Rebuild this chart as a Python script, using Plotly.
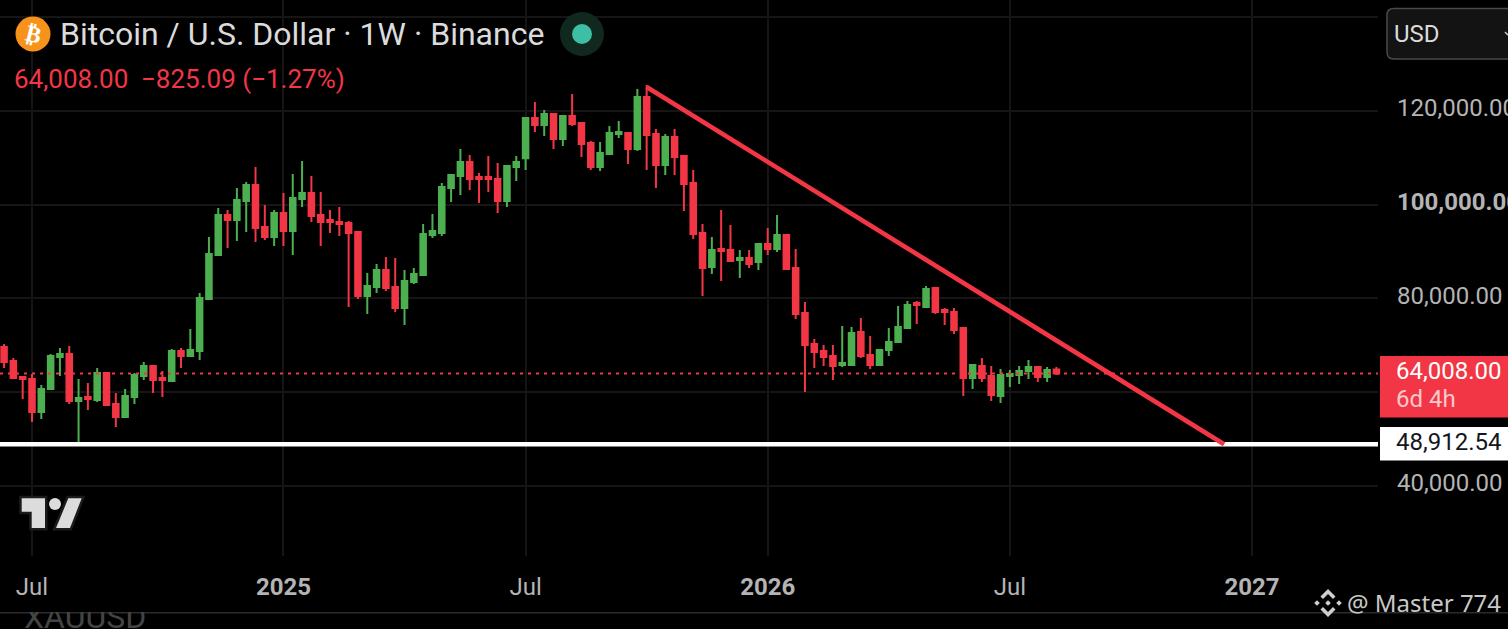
import datetime as dt
import plotly.graph_objects as go

# ---------- data ----------
weeks = [dt.date(2024, 6, 10) + dt.timedelta(days=7 * k) for k in range(114)]
open_ = [
    69633,66648,63236,62810,55774,60678,67501,68140,58119,58972,
    58332,64089,57480,54708,58972,63450,65582,63023,62384,68780,
    67714,68780,79867,89248,97776,96710,100761,104173,95218,93086,
    98202,94364,101187,102466,97776,96710,96283,96070,94151,80506,
    82425,86049,82425,77947,83491,84983,93512,93938,103532,106091,
    109076,105878,105878,105451,100761,108010,109863,118457,116965,119310,
    113980,118883,117391,113127,108010,110781,115046,115259,111848,122934,
    115046,108436,114406,110355,104598,93938,86689,90527,90313,88181,
    88608,87755,91593,90527,93511,86477,76883,70273,68781,67715,
    65796,65796,72832,67928,65796,68994,70700,73685,79015,78162,
    82213,77523,77096,73685,63024,65583,63451,59187,63451,63664,
    64517,65370,63238,64833]
high = [
    70272,67287,63236,63876,61531,68140,69419,69846,62810,61957,
    65155,64302,59825,60678,64089,66434,65582,64516,69206,69419,
    73470,81146,93086,99269,98842,103533,104812,108010,99908,98842,
    102466,106517,109289,106091,102680,98842,99481,96496,94364,85410,
    87328,88821,88608,86049,86476,95857,97989,104598,106517,111848,
    110568,106731,110355,108863,108436,110355,118670,121868,120163,119523,
    118883,123574,117604,113553,113340,116751,117817,115259,124640,125493,
    116112,115046,116112,110568,107370,95857,93085,98842,95644,90313,
    90313,91593,95004,97776,93511,90526,79228,71340,70060,70060,
    74111,73898,75817,71979,69207,73685,78375,79441,79441,82640,
    82213,77949,77949,73898,65796,67289,65583,64943,64730,65583,
    66862,65583,65370,65370]
low = [
    65155,63023,58546,53642,54282,60678,63450,57480,49378,56200,
    57906,57266,52576,54708,57480,62597,59825,58972,62170,65155,
    67501,66861,79867,89248,90740,92233,94152,92020,92446,91167,
    91166,89247,99481,96283,91166,93938,93298,78160,79866,76668,
    81145,81572,77094,74323,83064,84983,92872,93298,100547,102040,
    103106,100334,102680,98202,99481,105025,107370,115472,114619,111848,
    112487,116751,110142,107370,107157,110568,114193,108649,111421,107370,
    103532,106304,106304,98628,92659,80506,85196,83704,87755,84343,
    86476,86049,89247,89887,86049,75604,60039,65156,65583,62598,
    65370,65796,67289,64943,65796,67715,70700,73685,74538,78162,
    76670,74324,72406,59187,60679,62171,58120,57694,61105,61745,
    62811,62171,62171,63664]
close = [
    66434,63023,62810,55774,60678,67714,68140,58119,58759,58546,
    64089,57266,54708,59185,63663,65582,62597,62597,68780,67714,
    68993,80080,89461,97776,96710,100975,104173,95005,93086,98203,
    94364,101400,102466,97563,96283,96283,95857,93938,80506,82638,
    86049,82211,77947,83704,85196,93725,94364,103746,106304,109076,
    105451,105451,105451,100761,108223,109076,118457,116965,119310,113980,
    118883,117178,112914,108010,110995,115259,115472,111848,122934,114832,
    108436,114406,110142,104385,93725,86476,90313,90100,87968,88608,
    87328,91593,90527,93511,86262,76670,70060,68568,67502,65583,
    66222,72619,67715,65796,68994,70700,73898,78589,78589,82000,
    77096,77096,73258,63024,65796,63024,59400,63664,63877,64517,
    65370,63238,64730,64008]
last_price = 64008.00
support_level = 48912.54
trend_dates = ["2025-10-06", "2026-12-14"]
trend_values = [125067, 48912.54]
x_tick_dates = ["2024-07-01", "2025-01-06", "2025-07-07", "2026-01-05", "2026-07-06", "2027-01-04"]
x_tick_text = ["Jul", "<b>2025</b>", "Jul", "<b>2026</b>", "Jul", "<b>2027</b>"]
y_tick_vals = [40000, 60000, 80000, 100000, 120000, 140000]
y_tick_text = ["40,000.00", "", "80,000.00", "<b>100,000.00</b>", "120,000.00", ""]

# ---------- layout helpers (pixels on the page) ----------
W, H = 1508, 629
PW, PH = 1378, 556
RED, GREEN = "#F23645", "#4CAF50"
GRID = "#151515"
px = lambda v: v / PW
py = lambda v: 1 - v / PH
def wk(i):
    return dt.datetime(2024, 7, 1) + dt.timedelta(days=7 * i)
x_range = [wk(-3.436), wk(144.53)]
y_range = [25076, 143615]

fig = go.Figure()
fig.add_trace(go.Scatter(x=x_range, y=[support_level, support_level], mode="lines",
                         line=dict(color="#FFFFFF", width=4.4), hoverinfo="skip", showlegend=False))
fig.add_trace(go.Scatter(x=x_range, y=[last_price, last_price], mode="lines",
                         line=dict(color=RED, width=2, dash="3px,5px"), hoverinfo="skip", showlegend=False))
fig.add_trace(go.Candlestick(
    x=weeks, open=open_, high=high, low=low, close=close, showlegend=False, whiskerwidth=0,
    increasing=dict(line=dict(color=GREEN, width=2), fillcolor=GREEN),
    decreasing=dict(line=dict(color=RED, width=2), fillcolor=RED)))
fig.add_trace(go.Scatter(x=trend_dates, y=trend_values, mode="lines",
                         line=dict(color=RED, width=4.6), hoverinfo="skip", showlegend=False))

def rect(x0, y0, x1, y1, fill, line=None, lw=0):
    return dict(type="rect", xref="paper", yref="paper", x0=px(x0), x1=px(x1), y0=py(y0), y1=py(y1),
                fillcolor=fill, line=dict(color=line or fill, width=lw), layer="above")
def circle(cx, cy, r, fill):
    return dict(type="circle", xref="paper", yref="paper", x0=px(cx - r), x1=px(cx + r), y0=py(cy - r), y1=py(cy + r),
                fillcolor=fill, line=dict(width=0), layer="above")
def poly(pts, fill, line=None, lw=0):
    d = "M " + " L ".join(f"{px(a):.5f} {py(b):.5f}" for a, b in pts) + " Z"
    return dict(type="path", xref="paper", yref="paper", path=d, fillcolor=fill,
                line=dict(color=line or fill, width=lw), layer="above")

shapes = [
    rect(1380, 356, 1510, 417.5, RED),
    rect(1380, 427, 1510, 460.5, "#FFFFFF"),
    dict(type="path", xref="paper", yref="paper", layer="above", fillcolor="#131313",
         line=dict(color="#4a4a4a", width=1.5),
         path=f"M {px(1530):.5f} {py(8.5):.5f} L {px(1394):.5f} {py(8.5):.5f} Q {px(1387):.5f} {py(8.5):.5f} {px(1387):.5f} {py(15):.5f} "
              f"L {px(1387):.5f} {py(52):.5f} Q {px(1387):.5f} {py(59):.5f} {px(1394):.5f} {py(59):.5f} L {px(1530):.5f} {py(59):.5f}"),
    dict(type="line", xref="paper", yref="paper", layer="above", x0=px(1505), x1=px(1508), y0=py(32), y1=py(35),
         line=dict(color="#cccccc", width=1.5)),
    dict(type="line", xref="paper", yref="paper", layer="above", x0=0, x1=px(W), y0=py(612.7), y1=py(612.7),
         line=dict(color="#2b2b2b", width=1.5)),
    circle(33, 34, 17.5, "#F7931A"),
    circle(582, 34, 22, "#11281F"),
    circle(582, 34, 10, "#3DBFA5"),
]
# TradingView mark
tv_t = [(21.7, 498.3), (45, 498.3), (45, 528), (31.7, 528), (31.7, 511.7), (21.7, 511.7)]
tv_s = [(68.3, 498.3), (81.7, 498.3), (70, 528), (56, 528)]
shapes += [poly(tv_t, "#dcdcdc", "#1b1b1b", 5), poly(tv_s, "#dcdcdc", "#1b1b1b", 5),
           poly(tv_t, "#dcdcdc"), poly(tv_s, "#dcdcdc"), circle(55, 504, 6, "#dcdcdc")]
# Binance mark
bx, by, bc = 1328, 603, "#cfcfcf"
def off(pts):
    return [(bx + a, by + b) for a, b in pts]
shapes += [
    poly(off([(0, -14), (7.5, -6.5), (5, -4), (0, -9), (-5, -4), (-7.5, -6.5)]), bc),
    poly(off([(0, 14), (7.5, 6.5), (5, 4), (0, 9), (-5, 4), (-7.5, 6.5)]), bc),
    poly(off([(0, -2.8), (2.8, 0), (0, 2.8), (-2.8, 0)]), bc),
    poly(off([(-11, -2.8), (-8.2, 0), (-11, 2.8), (-13.8, 0)]), bc),
    poly(off([(11, -2.8), (13.8, 0), (11, 2.8), (8.2, 0)]), bc),
]

def note(text, x, y, size, color, anchor="left", family="Roboto", **kw):
    return dict(text=text, xref="paper", yref="paper", x=px(x), y=py(y), xanchor=anchor, yanchor="middle",
                showarrow=False, font=dict(family=family, size=size, color=color), borderpad=0, **kw)

annotations = [
    note("Bitcoin / U.S. Dollar · 1W · Binance", 59, 34, 32, "#DBDBDB"),
    note("<b>₿</b>", 33, 34, 23, "#FFFFFF", anchor="center", family="DejaVu Sans", textangle=14),
    note("64,008.00", 13, 79, 26, RED),
    note("−825.09 (−1.27%)", 140, 79, 26, RED),
    note("USD", 1393, 34, 24, "#DBDBDB"),
    note("64,008.00", 1395, 371, 24, "#FFFFFF"),
    note("6d 4h", 1395, 399, 24, "#FBC9CE"),
    note("48,912.54", 1395, 442, 24, "#131722"),
    note("@ Master 774", 1346, 602, 24, "#C8C8C8", family="Noto Sans"),
    note("XAUUSD", 23, 616.5, 32, "#444444", family="Roboto"),
    dict(text=" ", xref="paper", yref="paper", x=px(14), y=py(611.9), xanchor="left", yanchor="bottom",
         showarrow=False, bgcolor="#000000", width=150, height=12, borderpad=0, borderwidth=0, font=dict(size=8)),
]

fig.update_layout(
    width=W, height=H, margin=dict(l=0, r=W - PW, t=0, b=H - PH, pad=0, autoexpand=False),
    paper_bgcolor="#000000", plot_bgcolor="#000000", showlegend=False, hovermode=False,
    boxgap=0.15, dragmode=False, shapes=shapes, annotations=annotations,
    xaxis=dict(type="date", range=x_range, rangeslider=dict(visible=False), tickmode="array", automargin=False,
               tickvals=x_tick_dates, ticktext=x_tick_text, showgrid=True, gridcolor=GRID, gridwidth=1.5,
               zeroline=False, showline=False, ticks="", ticklabelstandoff=14,
               tickfont=dict(family="Roboto", size=24, color="#B4B4B4")),
    yaxis=dict(side="right", range=y_range, tickmode="array", tickvals=y_tick_vals, ticktext=y_tick_text,
               automargin=False, showgrid=True, gridcolor=GRID, gridwidth=1.5, zeroline=False, showline=False, ticks="",
               ticklabelstandoff=18, ticklabelshift=-3, tickfont=dict(family="Roboto", size=24, color="#B4B4B4")),
)

fig.write_html("out.html", config=dict(displayModeBar=False, responsive=False),
               post_script="document.body.style.margin='0';document.body.style.background='#000';document.documentElement.style.overflow='hidden';")
